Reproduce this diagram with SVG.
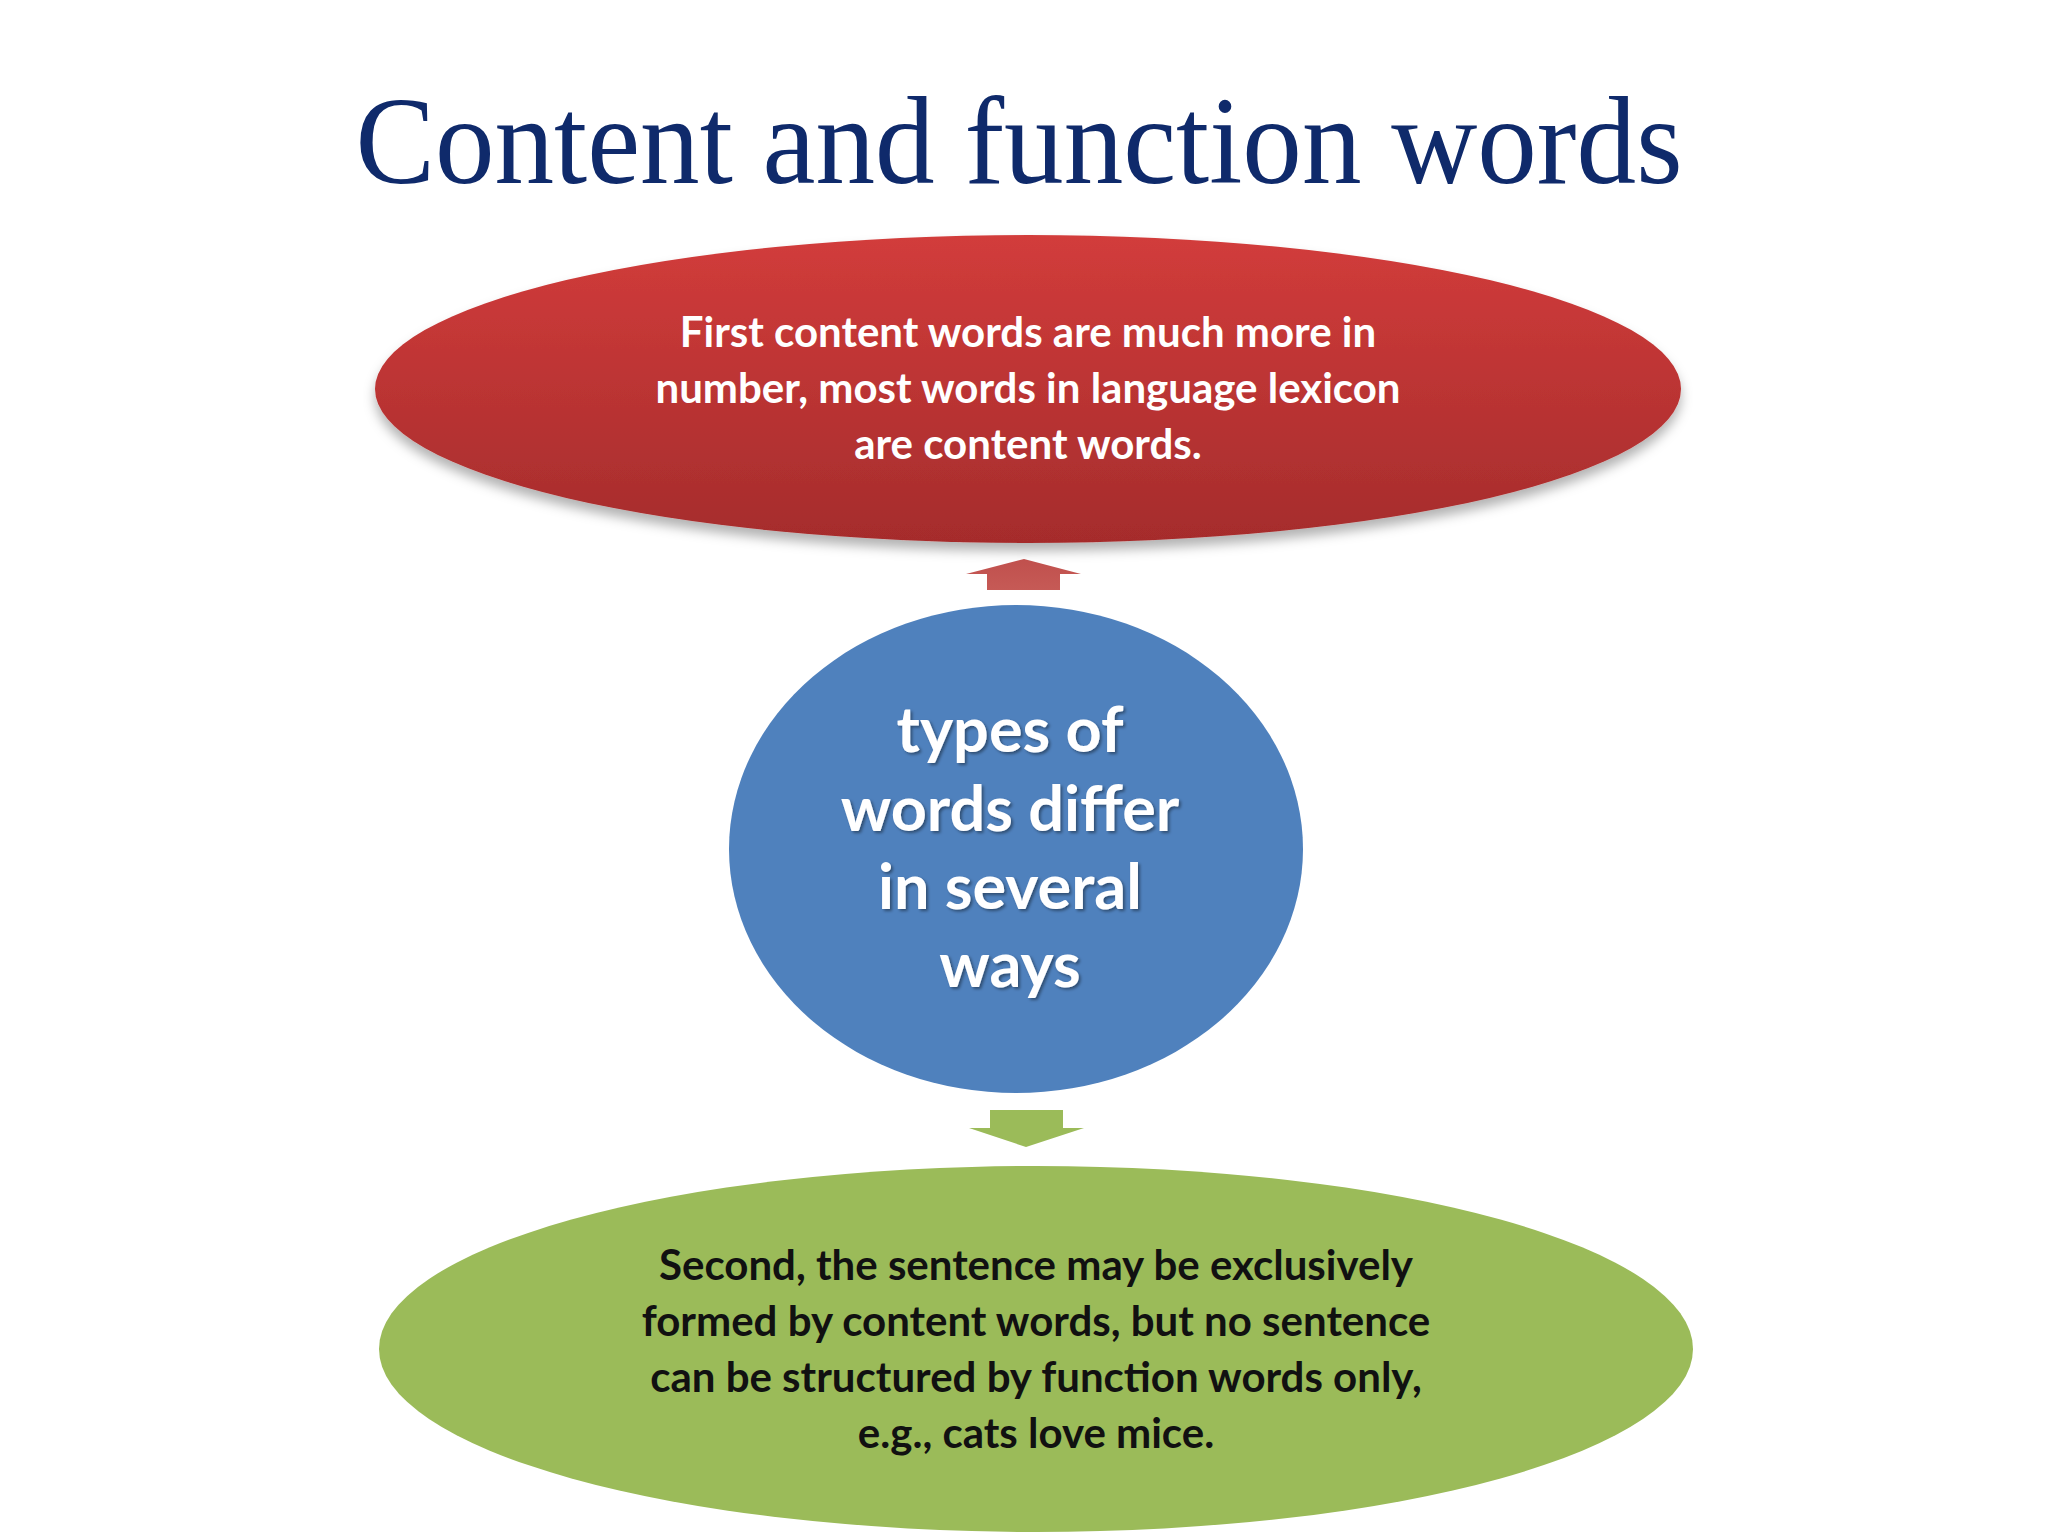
<svg xmlns="http://www.w3.org/2000/svg" width="2048" height="1536" viewBox="0 0 2048 1536">
<defs>
<linearGradient id="red" x1="0" y1="0" x2="0" y2="1"><stop offset="0" stop-color="#d23c3b"/><stop offset="1" stop-color="#a52c2c"/></linearGradient>
<linearGradient id="redArrow" x1="0" y1="0" x2="0" y2="1"><stop offset="0" stop-color="#c0504d"/><stop offset="1" stop-color="#c65a56"/></linearGradient>
<filter id="sh" x="-10%" y="-10%" width="120%" height="130%"><feDropShadow dx="0" dy="8" stdDeviation="6" flood-color="#000" flood-opacity="0.3"/></filter>
<filter id="ts"><feDropShadow dx="2" dy="2" stdDeviation="1.5" flood-color="#000" flood-opacity="0.4"/></filter>
</defs>
<style>
.t{font-family:Lato,"Open Sans",sans-serif;font-weight:bold;text-anchor:middle}
.w{fill:#fff;font-size:42px}
.k{fill:#111;font-size:42px}
.b{fill:#fff;font-size:63px}
</style>
<rect width="2048" height="1536" fill="#fff"/>
<text x="1019" y="183" font-family="Liberation Serif,serif" font-size="125" fill="#0f2a6b" text-anchor="middle" textLength="1327" lengthAdjust="spacingAndGlyphs">Content and function words</text>
<g id="top">
<ellipse cx="1028" cy="389" rx="653" ry="154" fill="url(#red)" filter="url(#sh)"/>
<text class="t w" x="1028" y="347">First content words are much more in</text>
<text class="t w" x="1028" y="403">number, most words in language lexicon</text>
<text class="t w" x="1028" y="459">are content words.</text>
</g>
<g id="center">
<ellipse cx="1016" cy="849" rx="287" ry="244" fill="#4f81bd"/>
<g filter="url(#ts)">
<text class="t b" x="1010" y="752">types of</text>
<text class="t b" x="1010" y="831">words differ</text>
<text class="t b" x="1010" y="909">in several</text>
<text class="t b" x="1010" y="987">ways</text>
</g>
</g>
<g id="bottom">
<ellipse cx="1036" cy="1349" rx="657" ry="183" fill="#9bbb59"/>
<text class="t k" x="1036" y="1280">Second, the sentence may be exclusively</text>
<text class="t k" x="1036" y="1336">formed by content words, but no sentence</text>
<text class="t k" x="1036" y="1392">can be structured by function words only,</text>
<text class="t k" x="1036" y="1448">e.g., cats love mice.</text>
</g>
<g id="connectors">
<polygon points="987,590 1060,590 1060,574 1081,574 1024,559 966,574 987,574" fill="url(#redArrow)"/>
<polygon points="990,1110 1063,1110 1063,1128 1084,1128 1026,1147 969,1128 990,1128" fill="#9bbb59"/>
</g>
</svg>
